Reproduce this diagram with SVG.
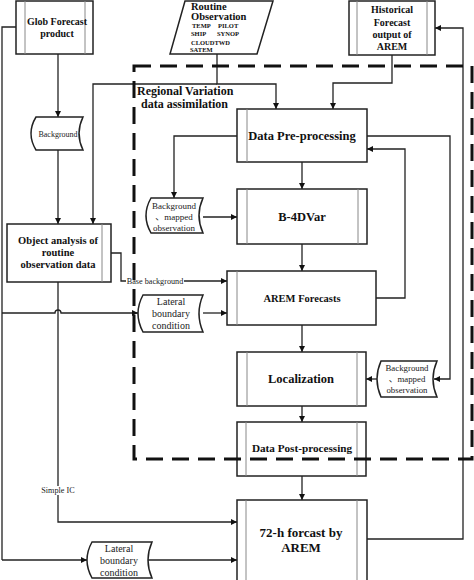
<svg xmlns="http://www.w3.org/2000/svg" width="474" height="580" viewBox="0 0 474 580">
<style>
.box{fill:#fff;stroke:#222;stroke-width:1.5}
.in{stroke:#888;stroke-width:1;fill:none}
.ln{fill:none;stroke:#222;stroke-width:1.3}
.ar{marker-end:url(#ah)}
.b{font-family:"Liberation Serif","Noto Sans CJK SC",serif;font-weight:bold;fill:#111;text-anchor:middle}
.r{font-family:"Liberation Serif","Noto Sans CJK SC",serif;fill:#222;text-anchor:middle}
.b.st{text-anchor:start}
.dash{fill:none;stroke:#111;stroke-width:3;stroke-dasharray:17 9}
</style>
<defs>
<marker id="ah" markerUnits="userSpaceOnUse" markerWidth="7" markerHeight="6" refX="6" refY="3" orient="auto">
<path d="M0,0 L6,3 L0,6 Z" fill="#111"/>
</marker>
</defs>
<rect width="474" height="580" fill="#fff"/>

<g id="connectors">
<path class="ln ar" d="M58,54 V117"/>
<path class="ln ar" d="M58,150 V224"/>
<path class="ln ar" d="M217,54 V84 H276 V109"/>
<path class="ln ar" d="M217,84 H93 V224"/>
<path class="ln ar" d="M392,55 V83 H333 V109"/>
<path class="ln ar" d="M237,136 H174 V198"/>
<path class="ln ar" d="M203,217 H237"/>
<path class="ln ar" d="M302,162 V189"/>
<path class="ln ar" d="M302,244 V271"/>
<path class="ln ar" d="M111,253 H121 V281 H227"/>
<path class="ln" d="M16,27 H2 V560" stroke="#777"/>
<path class="ln ar" d="M2,313 H55 A3,3 0 0 1 61,313 H138"/>
<path class="ln ar" d="M2,560 H87"/>
<path class="ln ar" d="M203,313 H227"/>
<path class="ln ar" d="M376,298 H405 V149 H367"/>
<path class="ln ar" d="M367,136 H450 V379 H434"/>
<path class="ln ar" d="M377,379 H366"/>
<path class="ln ar" d="M302,325 V352"/>
<path class="ln ar" d="M302,406 V422"/>
<path class="ln ar" d="M302,476 V500"/>
<path class="ln ar" d="M58,282 V522 H237"/>
<path class="ln ar" d="M148,560 H237"/>
<path class="ln ar" d="M367,539 H463 V28 H435"/>
</g>

<g id="glob">
<rect class="box" x="16" y="1" width="77" height="53"/>
<line class="in" x1="25" y1="1" x2="25" y2="54"/>
<line class="in" x1="85" y1="1" x2="85" y2="54"/>
<text class="b" x="57" y="25" font-size="10">Glob Forecast</text>
<text class="b" x="57" y="37" font-size="10">product</text>
</g>

<g id="routine">
<polygon class="box" points="185,1 273,1 257,54 170,54"/>
<text class="b st" x="191" y="10" font-size="10.5">Routine</text>
<text class="b st" x="191" y="20" font-size="10.5">Observation</text>
<text class="b st" font-size="6.5" y="28"><tspan x="192">TEMP</tspan><tspan x="218">PILOT</tspan></text>
<text class="b st" font-size="6.5" y="36"><tspan x="191">SHIP</tspan><tspan x="217">SYNOP</tspan></text>
<text class="b st" x="191" y="45" font-size="6.5">CLOUDTWD</text>
<text class="b st" x="190" y="52" font-size="6.5">SATEM</text>
</g>

<g id="historical">
<rect class="box" x="349" y="1" width="86" height="54"/>
<line class="in" x1="357" y1="1" x2="357" y2="55"/>
<line class="in" x1="427" y1="1" x2="427" y2="55"/>
<text class="b" x="392" y="13" font-size="10">Historical</text>
<text class="b" x="392" y="26" font-size="10">Forecast</text>
<text class="b" x="392" y="38" font-size="10">output of</text>
<text class="b" x="392" y="50" font-size="10">AREM</text>
</g>

<g id="background">
<path class="box" d="M36,117 H83 Q75,133.5 83,150 H36 Q26,133.5 36,117 Z" stroke-width="1.2"/>
<text class="r" x="58" y="137" font-size="8">Background</text>
</g>

<g id="object-analysis">
<rect class="box" x="7" y="224" width="104" height="58"/>
<line class="in" x1="102" y1="224" x2="102" y2="282"/>
<text class="b" x="58" y="244" font-size="10.5">Object analysis of</text>
<text class="b" x="58" y="256" font-size="10.5">routine</text>
<text class="b" x="58" y="268" font-size="10.5">observation data</text>
</g>

<g id="data-pre">
<rect class="box" x="237" y="109" width="130" height="53"/>
<line class="in" x1="247" y1="109" x2="247" y2="162"/>
<text class="b" x="302" y="140" font-size="12.5">Data Pre-processing</text>
</g>

<g id="bg-mapped-left">
<path class="box" d="M151,198 H203 Q195,215.5 203,233 H151 Q141,215.5 151,198 Z" stroke-width="1.2"/>
<text class="r" x="174" y="209" font-size="9">Background</text>
<text class="r" x="174" y="220" font-size="9">、mapped</text>
<text class="r" x="174" y="231" font-size="9">observation</text>
</g>

<g id="b4dvar">
<rect class="box" x="237" y="189" width="130" height="55"/>
<line class="in" x1="247" y1="189" x2="247" y2="244"/>
<line class="in" x1="358" y1="189" x2="358" y2="244"/>
<text class="b" x="302" y="221" font-size="12.5">B-4DVar</text>
</g>

<g id="base-background-label">
<rect x="126" y="276" width="58" height="10" fill="#fff"/>
<text class="r" x="155" y="284" font-size="8.2">Base background</text>
</g>

<g id="lateral-upper">
<path class="box" d="M143,295 H203 Q195,313.5 203,332 H143 Q133,313.5 143,295 Z" stroke-width="1.2"/>
<text class="r" x="171" y="305" font-size="10">Lateral</text>
<text class="r" x="171" y="317" font-size="10">boundary</text>
<text class="r" x="171" y="329" font-size="10">condition</text>
</g>

<g id="arem-forecasts">
<rect class="box" x="227" y="271" width="149" height="54"/>
<line class="in" x1="237" y1="271" x2="237" y2="325"/>
<text class="b" x="302" y="302" font-size="10.5">AREM Forecasts</text>
</g>

<g id="localization">
<rect class="box" x="237" y="352" width="129" height="54"/>
<line class="in" x1="247" y1="352" x2="247" y2="406"/>
<line class="in" x1="357" y1="352" x2="357" y2="406"/>
<text class="b" x="301" y="383" font-size="12.5">Localization</text>
</g>

<g id="bg-mapped-right">
<path class="box" d="M381,361 H437 Q429,379 437,397 H381 Q373,379 381,361 Z" stroke-width="1.2"/>
<text class="r" x="407" y="371" font-size="8.8">Background</text>
<text class="r" x="407" y="382" font-size="8.8">、mapped</text>
<text class="r" x="407" y="393" font-size="8.8">observation</text>
</g>

<g id="data-post">
<rect class="box" x="237" y="422" width="129" height="54"/>
<line class="in" x1="246" y1="422" x2="246" y2="476"/>
<line class="in" x1="357" y1="422" x2="357" y2="476"/>
<text class="b" x="302" y="452" font-size="11.2">Data Post-processing</text>
</g>

<g id="forecast-72h">
<rect class="box" x="237" y="500" width="130" height="90"/>
<line class="in" x1="246" y1="500" x2="246" y2="580"/>
<line class="in" x1="357" y1="500" x2="357" y2="580"/>
<text class="b" x="301" y="537" font-size="13">72-h forcast by</text>
<text class="b" x="301" y="552" font-size="13">AREM</text>
</g>

<g id="simple-ic-label">
<rect x="41" y="486" width="35" height="9" fill="#fff"/>
<text class="r" x="58" y="493" font-size="8.2">Simple IC</text>
</g>

<g id="lateral-lower">
<path class="box" d="M92,542 H152 Q144,560 152,578 H92 Q82,560 92,542 Z" stroke-width="1.2"/>
<text class="r" x="119" y="552" font-size="10">Lateral</text>
<text class="r" x="119" y="564" font-size="10">boundary</text>
<text class="r" x="119" y="576" font-size="10">condition</text>
</g>

<g id="regional-variation">
<path class="dash" d="M134,66 H472 V459 H134 Z"/>
<text class="b st" x="137" y="95" font-size="12">Regional Variation</text>
<text class="b st" x="141" y="108" font-size="12">data assimilation</text>
</g>
</svg>
